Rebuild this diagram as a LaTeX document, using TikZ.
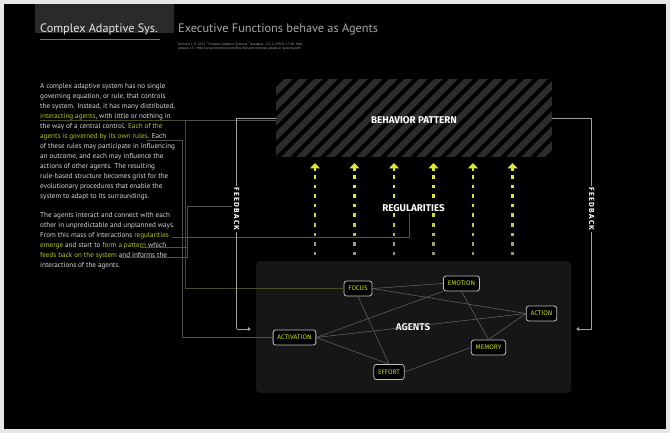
\documentclass[tikz,border=0pt]{standalone}
\usepackage{fontspec}
\setmainfont{PT Sans}
\newfontfamily\labelfont{Fira Sans}
\usetikzlibrary{arrows.meta}
\definecolor{framecol}{HTML}{E6E6E6}
\definecolor{titlebg}{HTML}{2A2A2A}
\definecolor{titlecol}{HTML}{E8E8E8}
\definecolor{subcol}{HTML}{A8A8A8}
\definecolor{bodycol}{HTML}{D8D8D8}
\definecolor{hl}{HTML}{B4C814}
\definecolor{agtext}{HTML}{C8E000}
\definecolor{boxgray}{HTML}{2C2C2C}
\definecolor{agbg}{HTML}{161616}
\definecolor{fbcol}{HTML}{A0A0A0}
\definecolor{conn}{HTML}{505050}
\definecolor{olive}{HTML}{4A4C22}
\definecolor{edgecol}{HTML}{6A6A6A}
\definecolor{arrowcol}{HTML}{DCE82A}
\tikzset{
  bodytext/.style={anchor=north west, inner sep=0, align=left, text=bodycol,
    font=\fontsize{7.15}{10}\selectfont},
  biglabel/.style={text=white, font=\labelfont\bfseries\fontsize{9.8}{10}\selectfont, inner sep=1.5pt},
  fblabel/.style={text=white, fill=black, rotate=-90, inner sep=2pt,
    font=\labelfont\bfseries\fontsize{7.4}{7}\selectfont},
  agent/.style={draw=white!75!black, line width=0.8pt, fill=black, rounded corners=2.5pt,
    text=agtext, font=\labelfont\fontsize{6.6}{7}\selectfont, minimum height=15pt, inner xsep=4.3pt},
  edge/.style={draw=edgecol, line width=0.5pt},
  fbline/.style={draw=fbcol, line width=0.7pt},
  connline/.style={draw=conn, line width=0.6pt},
  oliveline/.style={draw=olive, line width=0.7pt},
}
\begin{document}
\begin{tikzpicture}[x=1pt,y=-1pt]
\fill[framecol] (0,0) rectangle (670,433);
\fill[black] (4,4) rectangle (666,429);
\useasboundingbox (0,0) rectangle (670,433);

% title
\fill[titlebg] (35,4) rectangle (174,33.5);
\node[anchor=base west, inner sep=0, text=titlecol, font=\fontsize{12.2}{13}\selectfont] (title) at (40,33) {Complex Adaptive Sys.};
\draw[white!45!black, line width=0.8pt] (40,39.3) -- (160,39.3);
\node[anchor=base west, inner sep=0, text=subcol, font=\fontsize{12.3}{13}\selectfont] (subtitle) at (178,33) {Executive Functions behave as Agents};
\node[anchor=north west, inner sep=0, text=subcol, align=left, font=\fontsize{3.4}{4.6}\selectfont] (cite) at (178,42.3)
  {Holland, J. H. 2011. “Complex Adaptive Systems.” Daedalus. 121.1 (1992): 17-30. Web.\\
   January 15, <http://www.tonymerie.net/files/holland-complex\_adaptive\_systems.pdf>.};

% left text
\node[bodytext] (p1) at (40,83) {A complex adaptive system has no single\\
governing equation, or rule, that controls\\
the system. Instead, it has many distributed,\\
\textcolor{hl}{interacting agents}, with little or nothing in\\
the way of a central control. \textcolor{hl}{Each of the}\\
\textcolor{hl}{agents is governed by its own rules}. Each\\
of these rules may participate in influencing\\
an outcome, and each may influence the\\
actions of other agents. The resulting\\
rule-based structure becomes grist for the\\
evolutionary procedures that enable the\\
system to adapt to its surroundings.};
\node[bodytext] (p2) at (40,212) {The agents interact and connect with each\\
other in unpredictable and unplanned ways.\\
From this mass of interactions \textcolor{hl}{regularities}\\
\textcolor{hl}{emerge} and start to \textcolor{hl}{form a pattern} which\\
\textcolor{hl}{feeds back on the system} and informs the\\
interactions of the agents.};

% behavior pattern box
\begin{scope}
\clip[rounded corners=3pt] (276,79) rectangle (552,157);
\fill[boxgray] (276,79) rectangle (552,157);
\foreach \i in {-6,...,19} \draw[black, line width=4.2pt] (276+\i*15,159) -- ++(82,-82);
\end{scope}
\node[minimum width=276pt, minimum height=78pt, inner sep=0] (bpbox) at (414,118) {};
\node[biglabel] (bp) at (414,120.5) {BEHAVIOR PATTERN};

% agents box
\node[fill=agbg, rounded corners=4pt, minimum width=315pt, minimum height=132pt, inner sep=0] (agbox) at (413.5,327) {};
\node[biglabel] (agents) at (413,327) {AGENTS};

% regularity arrows
\foreach \x in {315,354.5,394,433.5,473,512.5} {
  \fill[arrowcol] (\x,163) -- (\x+5,168.3) -- (\x-5,168.3) -- cycle;
  \draw[arrowcol, line width=2.3pt] (\x,168) -- (\x,171);
  \foreach \y/\c in {175/arrowcol,184.6/arrowcol,194.2/arrowcol,203.8/arrowcol!95!gray,213.4/arrowcol!88!gray,223/arrowcol!72!gray,232.6/arrowcol!55!gray,242.2/arrowcol!35!gray,251.8/arrowcol!22!gray}
    \draw[\c, line width=2.3pt] (\x,\y) -- (\x,\y+3.6);
}

% agents
\node[agent] (focus) at (358,288.5) {FOCUS};
\node[agent] (emotion) at (461.5,283.5) {EMOTION};
\node[agent] (action) at (541.5,313.5) {ACTION};
\node[agent] (activation) at (294.5,337.5) {ACTIVATION};
\node[agent] (memory) at (488.5,347.5) {MEMORY};
\node[agent] (effort) at (389,372) {EFFORT};

\draw[edge] (focus.east) -- (emotion.west);
\draw[edge] (focus.east) -- (action.west);
\draw[edge] (focus.south) -- (effort.north);
\draw[edge] (activation.east) -- (emotion.south west);
\draw[edge] (activation.east) -- (action.west);
\draw[edge] (activation.east) -- (effort.north);
\draw[edge] (effort.east) -- (memory.west);
\draw[edge] (memory.north) -- (action.west);
\draw[edge] (emotion.south) -- (memory.north);

% text connectors
\coordinate (ia) at (40,120.5);
\coordinate (rules) at (147,140.7);
\coordinate (regw) at (172,237.7);
\coordinate (pat) at (140,247.7);
\coordinate (fb) at (120,257.7);
\coordinate (regbot) at (409,213);
\coordinate (fbend) at (232,206.7);
\draw[oliveline] (ia) -- (185,120.5) -- (185,288.5) -- (focus.west);
\draw[connline] (185,120.5) -- (bpbox.west |- ia);
\draw[connline] (rules) -- (182.7,140.7) -- (182.7,337.5) -- (activation.west);
\draw[connline] (regw) -- (regbot |- regw) -- (regbot);
\draw[connline] (pat) -- (187.3,247.7);
\draw[connline] (fb) -- (187.3,257.7) -- (187.3,206.7) -- (fbend);

% feedback loops
\coordinate (fbly) at (0,329);
\draw[fbline] (bpbox.west) -- (236.7,118) -- (236.7,329);
\draw[fbline, -{Triangle[length=3pt,width=4pt]}] (236.7,329) -- ([xshift=-5pt]agbox.west |- fbly);
\draw[fbline] (bpbox.east) -- (591.7,118) -- (591.7,329);
\draw[fbline, -{Triangle[length=3pt,width=4pt]}] (591.7,329) -- ([xshift=5pt]agbox.east |- fbly);
\node[fblabel] (fbl) at (236.7,209) {F\,E\,E\,D\,B\,A\,C\,K};
\node[fblabel] (fbr) at (591.7,209) {F\,E\,E\,D\,B\,A\,C\,K};
\node[biglabel, fill=black] (reg) at (413.5,208) {REGULARITIES};
\end{tikzpicture}
\end{document}
